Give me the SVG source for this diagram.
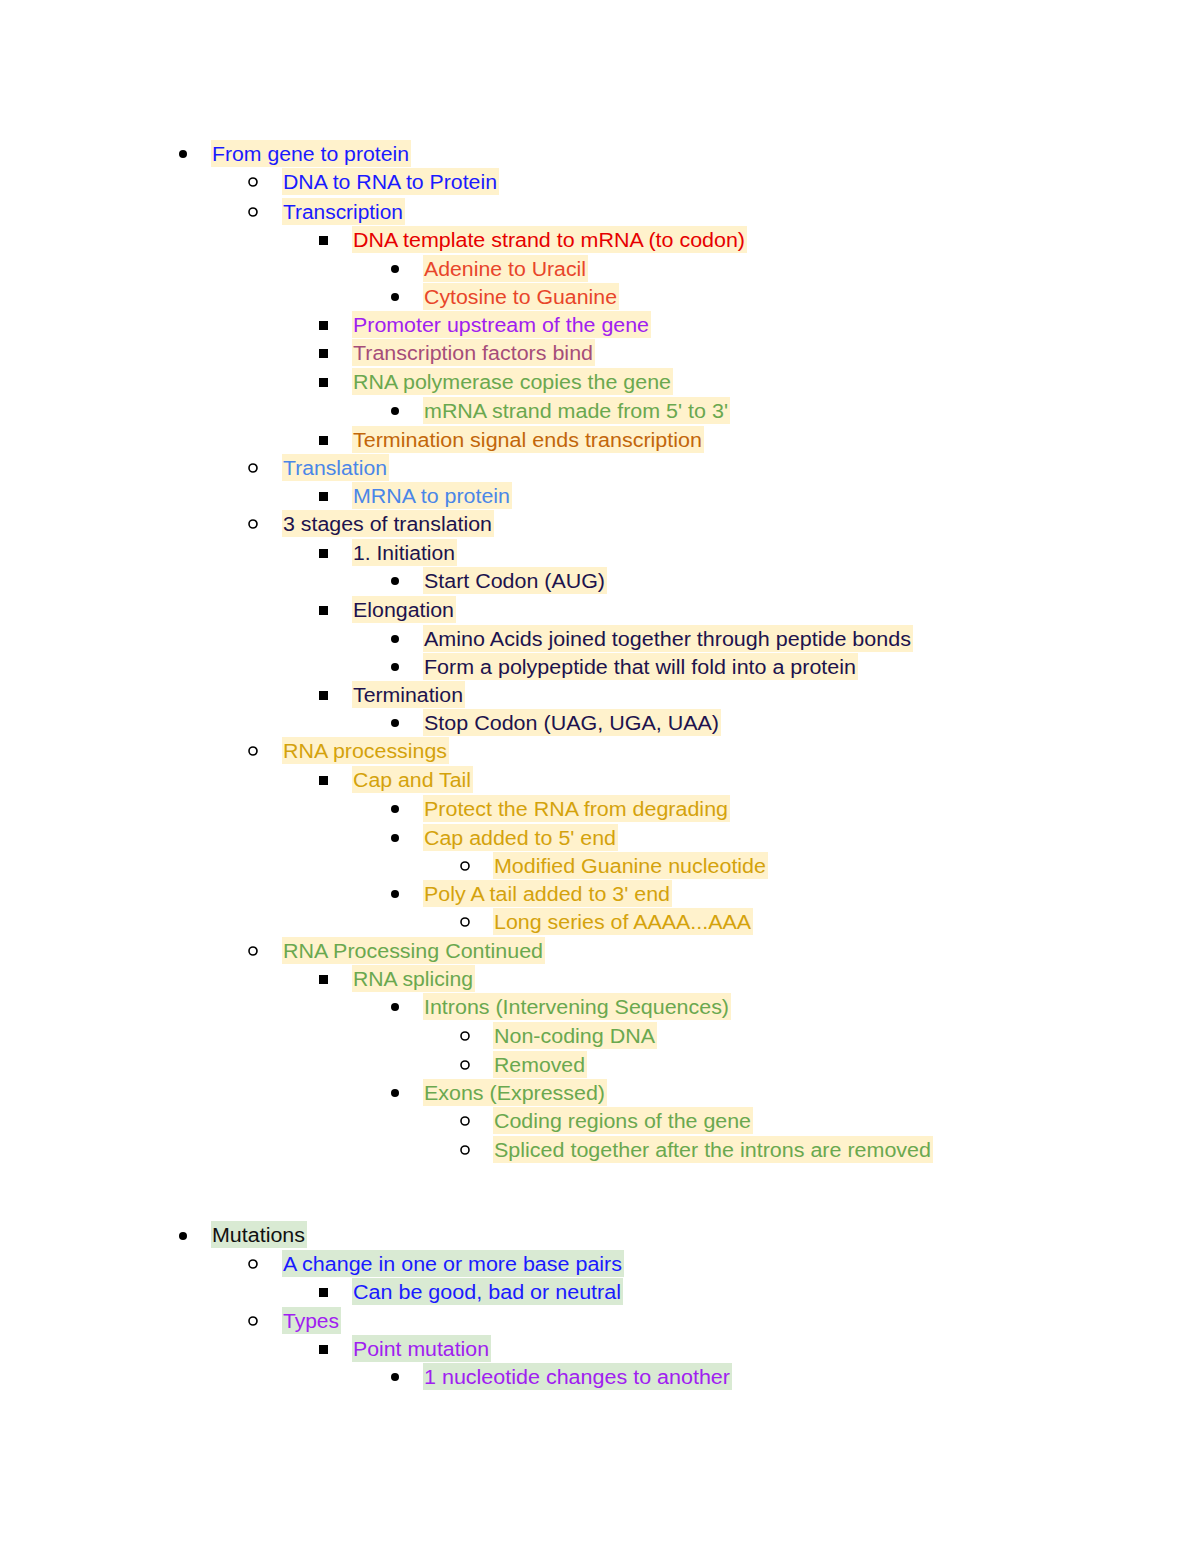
<svg xmlns="http://www.w3.org/2000/svg" width="1200" height="1553" viewBox="0 0 1200 1553">
<style>
text{font-family:"Liberation Sans",Arial,sans-serif;font-size:20px}
.y{fill:#fff2cc}.g{fill:#d9ead3}
.fc{fill:#000}.hc{fill:none;stroke:#000;stroke-width:1.6}
.b{fill:#1a1aff}.r{fill:#e60000}.o{fill:#e8452a}.p{fill:#a020f0}.m{fill:#a64d79}.gr{fill:#6aa84f}.t{fill:#c2660a}.lb{fill:#4a86e8}.d{fill:#20124d}.au{fill:#d4a20c}.k{fill:#111}
</style>
<rect width="1200" height="1553" fill="#fff"/>
<g id="n1"><circle class="fc" cx="183" cy="154" r="4"/><rect class="y" x="211" y="140" width="200" height="27"/><text class="b" x="212" y="161" textLength="197" lengthAdjust="spacingAndGlyphs">From gene to protein</text></g>
<g id="n2"><circle class="hc" cx="253" cy="182" r="4"/><rect class="y" x="282" y="168" width="217" height="27"/><text class="b" x="283" y="189" textLength="214" lengthAdjust="spacingAndGlyphs">DNA to RNA to Protein</text></g>
<g id="n3"><circle class="hc" cx="253" cy="212" r="4"/><rect class="y" x="282" y="198" width="123" height="27"/><text class="b" x="283" y="219" textLength="120" lengthAdjust="spacingAndGlyphs">Transcription</text></g>
<g id="n4"><rect class="fc" x="319" y="236" width="9" height="9"/><rect class="y" x="352" y="226" width="395" height="27"/><text class="r" x="353" y="247" textLength="392" lengthAdjust="spacingAndGlyphs">DNA template strand to mRNA (to codon)</text></g>
<g id="n5"><circle class="fc" cx="395" cy="269" r="4"/><rect class="y" x="423" y="255" width="165" height="27"/><text class="o" x="424" y="276" textLength="162" lengthAdjust="spacingAndGlyphs">Adenine to Uracil</text></g>
<g id="n6"><circle class="fc" cx="395" cy="297" r="4"/><rect class="y" x="423" y="283" width="196" height="27"/><text class="o" x="424" y="304" textLength="193" lengthAdjust="spacingAndGlyphs">Cytosine to Guanine</text></g>
<g id="n7"><rect class="fc" x="319" y="321" width="9" height="9"/><rect class="y" x="352" y="311" width="299" height="27"/><text class="p" x="353" y="332" textLength="296" lengthAdjust="spacingAndGlyphs">Promoter upstream of the gene</text></g>
<g id="n8"><rect class="fc" x="319" y="349" width="9" height="9"/><rect class="y" x="352" y="339" width="243" height="27"/><text class="m" x="353" y="360" textLength="240" lengthAdjust="spacingAndGlyphs">Transcription factors bind</text></g>
<g id="n9"><rect class="fc" x="319" y="378" width="9" height="9"/><rect class="y" x="352" y="368" width="321" height="27"/><text class="gr" x="353" y="389" textLength="318" lengthAdjust="spacingAndGlyphs">RNA polymerase copies the gene</text></g>
<g id="n10"><circle class="fc" cx="395" cy="411" r="4"/><rect class="y" x="423" y="397" width="307" height="27"/><text class="gr" x="424" y="418" textLength="304" lengthAdjust="spacingAndGlyphs">mRNA strand made from 5' to 3'</text></g>
<g id="n11"><rect class="fc" x="319" y="436" width="9" height="9"/><rect class="y" x="352" y="426" width="352" height="27"/><text class="t" x="353" y="447" textLength="349" lengthAdjust="spacingAndGlyphs">Termination signal ends transcription</text></g>
<g id="n12"><circle class="hc" cx="253" cy="468" r="4"/><rect class="y" x="282" y="454" width="107" height="27"/><text class="lb" x="283" y="475" textLength="104" lengthAdjust="spacingAndGlyphs">Translation</text></g>
<g id="n13"><rect class="fc" x="319" y="492" width="9" height="9"/><rect class="y" x="352" y="482" width="160" height="27"/><text class="lb" x="353" y="503" textLength="157" lengthAdjust="spacingAndGlyphs">MRNA to protein</text></g>
<g id="n14"><circle class="hc" cx="253" cy="524" r="4"/><rect class="y" x="282" y="510" width="212" height="27"/><text class="d" x="283" y="531" textLength="209" lengthAdjust="spacingAndGlyphs">3 stages of translation</text></g>
<g id="n15"><rect class="fc" x="319" y="549" width="9" height="9"/><rect class="y" x="352" y="539" width="105" height="27"/><text class="d" x="353" y="560" textLength="102" lengthAdjust="spacingAndGlyphs">1. Initiation</text></g>
<g id="n16"><circle class="fc" cx="395" cy="581" r="4"/><rect class="y" x="423" y="567" width="184" height="27"/><text class="d" x="424" y="588" textLength="181" lengthAdjust="spacingAndGlyphs">Start Codon (AUG)</text></g>
<g id="n17"><rect class="fc" x="319" y="606" width="9" height="9"/><rect class="y" x="352" y="596" width="104" height="27"/><text class="d" x="353" y="617" textLength="101" lengthAdjust="spacingAndGlyphs">Elongation</text></g>
<g id="n18"><circle class="fc" cx="395" cy="639" r="4"/><rect class="y" x="423" y="625" width="490" height="27"/><text class="d" x="424" y="646" textLength="487" lengthAdjust="spacingAndGlyphs">Amino Acids joined together through peptide bonds</text></g>
<g id="n19"><circle class="fc" cx="395" cy="667" r="4"/><rect class="y" x="423" y="653" width="435" height="27"/><text class="d" x="424" y="674" textLength="432" lengthAdjust="spacingAndGlyphs">Form a polypeptide that will fold into a protein</text></g>
<g id="n20"><rect class="fc" x="319" y="691" width="9" height="9"/><rect class="y" x="352" y="681" width="113" height="27"/><text class="d" x="353" y="702" textLength="110" lengthAdjust="spacingAndGlyphs">Termination</text></g>
<g id="n21"><circle class="fc" cx="395" cy="723" r="4"/><rect class="y" x="423" y="709" width="298" height="27"/><text class="d" x="424" y="730" textLength="295" lengthAdjust="spacingAndGlyphs">Stop Codon (UAG, UGA, UAA)</text></g>
<g id="n22"><circle class="hc" cx="253" cy="751" r="4"/><rect class="y" x="282" y="737" width="167" height="27"/><text class="au" x="283" y="758" textLength="164" lengthAdjust="spacingAndGlyphs">RNA processings</text></g>
<g id="n23"><rect class="fc" x="319" y="776" width="9" height="9"/><rect class="y" x="352" y="766" width="121" height="27"/><text class="au" x="353" y="787" textLength="118" lengthAdjust="spacingAndGlyphs">Cap and Tail</text></g>
<g id="n24"><circle class="fc" cx="395" cy="809" r="4"/><rect class="y" x="423" y="795" width="307" height="27"/><text class="au" x="424" y="816" textLength="304" lengthAdjust="spacingAndGlyphs">Protect the RNA from degrading</text></g>
<g id="n25"><circle class="fc" cx="395" cy="838" r="4"/><rect class="y" x="423" y="824" width="195" height="27"/><text class="au" x="424" y="845" textLength="192" lengthAdjust="spacingAndGlyphs">Cap added to 5' end</text></g>
<g id="n26"><circle class="hc" cx="465" cy="866" r="4"/><rect class="y" x="493" y="852" width="275" height="27"/><text class="au" x="494" y="873" textLength="272" lengthAdjust="spacingAndGlyphs">Modified Guanine nucleotide</text></g>
<g id="n27"><circle class="fc" cx="395" cy="894" r="4"/><rect class="y" x="423" y="880" width="249" height="27"/><text class="au" x="424" y="901" textLength="246" lengthAdjust="spacingAndGlyphs">Poly A tail added to 3' end</text></g>
<g id="n28"><circle class="hc" cx="465" cy="922" r="4"/><rect class="y" x="493" y="908" width="260" height="27"/><text class="au" x="494" y="929" textLength="257" lengthAdjust="spacingAndGlyphs">Long series of AAAA...AAA</text></g>
<g id="n29"><circle class="hc" cx="253" cy="951" r="4"/><rect class="y" x="282" y="937" width="263" height="27"/><text class="gr" x="283" y="958" textLength="260" lengthAdjust="spacingAndGlyphs">RNA Processing Continued</text></g>
<g id="n30"><rect class="fc" x="319" y="975" width="9" height="9"/><rect class="y" x="352" y="965" width="123" height="27"/><text class="gr" x="353" y="986" textLength="120" lengthAdjust="spacingAndGlyphs">RNA splicing</text></g>
<g id="n31"><circle class="fc" cx="395" cy="1007" r="4"/><rect class="y" x="423" y="993" width="308" height="27"/><text class="gr" x="424" y="1014" textLength="305" lengthAdjust="spacingAndGlyphs">Introns (Intervening Sequences)</text></g>
<g id="n32"><circle class="hc" cx="465" cy="1036" r="4"/><rect class="y" x="493" y="1022" width="164" height="27"/><text class="gr" x="494" y="1043" textLength="161" lengthAdjust="spacingAndGlyphs">Non-coding DNA</text></g>
<g id="n33"><circle class="hc" cx="465" cy="1065" r="4"/><rect class="y" x="493" y="1051" width="94" height="27"/><text class="gr" x="494" y="1072" textLength="91" lengthAdjust="spacingAndGlyphs">Removed</text></g>
<g id="n34"><circle class="fc" cx="395" cy="1093" r="4"/><rect class="y" x="423" y="1079" width="184" height="27"/><text class="gr" x="424" y="1100" textLength="181" lengthAdjust="spacingAndGlyphs">Exons (Expressed)</text></g>
<g id="n35"><circle class="hc" cx="465" cy="1121" r="4"/><rect class="y" x="493" y="1107" width="260" height="27"/><text class="gr" x="494" y="1128" textLength="257" lengthAdjust="spacingAndGlyphs">Coding regions of the gene</text></g>
<g id="n36"><circle class="hc" cx="465" cy="1150" r="4"/><rect class="y" x="493" y="1136" width="440" height="27"/><text class="gr" x="494" y="1157" textLength="437" lengthAdjust="spacingAndGlyphs">Spliced together after the introns are removed</text></g>
<g id="n37"><circle class="fc" cx="183" cy="1236" r="4"/><rect class="g" x="211" y="1221" width="96" height="27"/><text class="k" x="212" y="1242" textLength="93" lengthAdjust="spacingAndGlyphs">Mutations</text></g>
<g id="n38"><circle class="hc" cx="253" cy="1264" r="4"/><rect class="g" x="282" y="1250" width="342" height="27"/><text class="b" x="283" y="1271" textLength="339" lengthAdjust="spacingAndGlyphs">A change in one or more base pairs</text></g>
<g id="n39"><rect class="fc" x="319" y="1288" width="9" height="9"/><rect class="g" x="352" y="1278" width="271" height="27"/><text class="b" x="353" y="1299" textLength="268" lengthAdjust="spacingAndGlyphs">Can be good, bad or neutral</text></g>
<g id="n40"><circle class="hc" cx="253" cy="1321" r="4"/><rect class="g" x="282" y="1307" width="59" height="27"/><text class="p" x="283" y="1328" textLength="56" lengthAdjust="spacingAndGlyphs">Types</text></g>
<g id="n41"><rect class="fc" x="319" y="1345" width="9" height="9"/><rect class="g" x="352" y="1335" width="139" height="27"/><text class="p" x="353" y="1356" textLength="136" lengthAdjust="spacingAndGlyphs">Point mutation</text></g>
<g id="n42"><circle class="fc" cx="395" cy="1377" r="4"/><rect class="g" x="423" y="1363" width="309" height="27"/><text class="p" x="424" y="1384" textLength="306" lengthAdjust="spacingAndGlyphs">1 nucleotide changes to another</text></g>
<g id="connectors"/>
</svg>
